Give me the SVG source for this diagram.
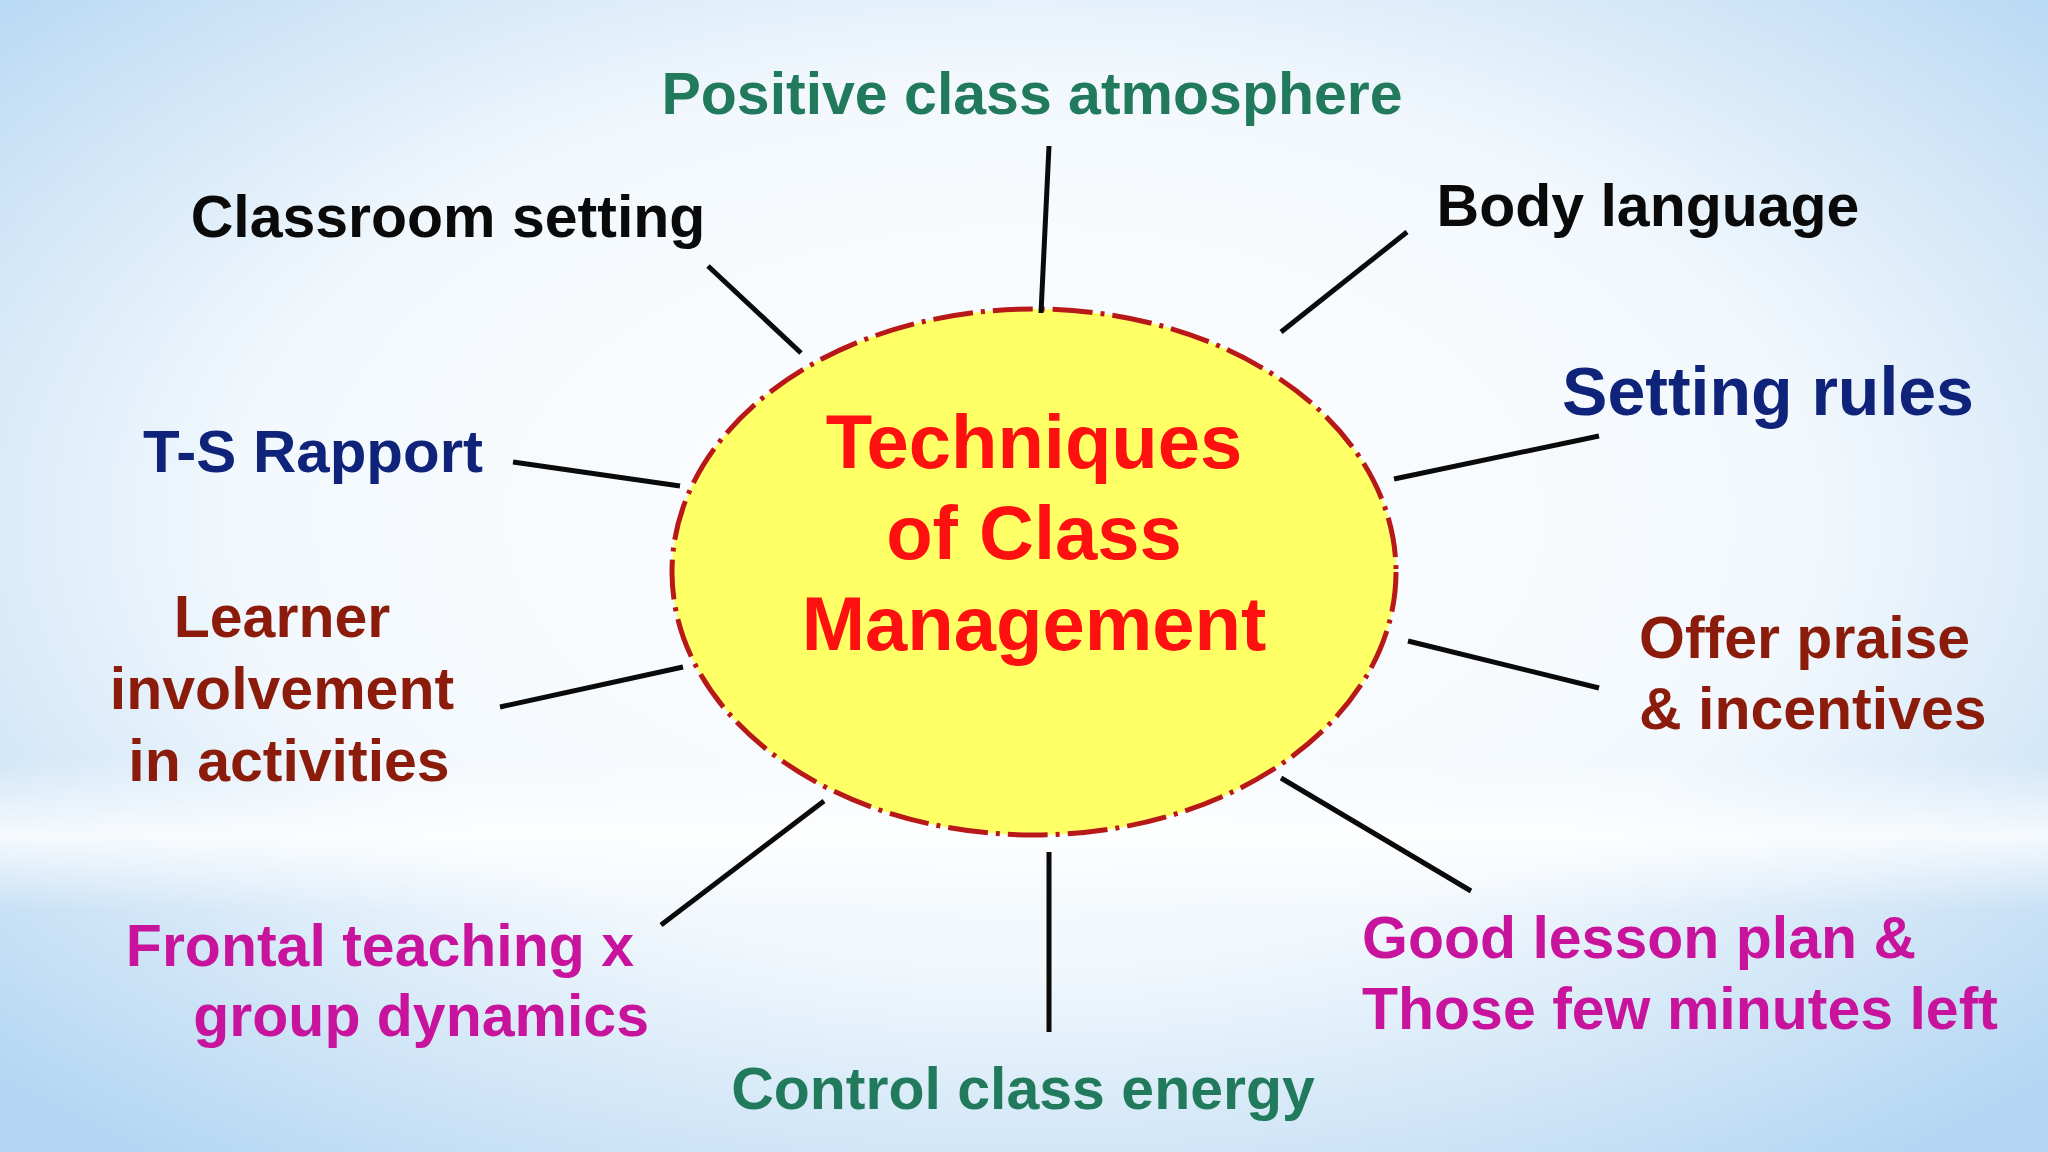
<svg xmlns="http://www.w3.org/2000/svg" width="2048" height="1152" viewBox="0 0 2048 1152">
<defs>
<radialGradient id="bg" cx="50%" cy="45%" r="70%">
<stop offset="0" stop-color="#ffffff"/><stop offset="0.55" stop-color="#f2f8fd"/><stop offset="1" stop-color="#b4d6f2"/>
</radialGradient>
<linearGradient id="band" x1="0" y1="0" x2="0" y2="1">
<stop offset="0" stop-color="#ffffff" stop-opacity="0"/><stop offset="0.5" stop-color="#ffffff" stop-opacity="0.8"/><stop offset="1" stop-color="#ffffff" stop-opacity="0"/>
</linearGradient>
</defs>
<style>
text{font-family:"Liberation Sans",Arial,sans-serif;font-weight:bold;font-size:59px}
.g{fill:#217a5c}.k{fill:#0a0a0a}.n{fill:#0f237a}.b{fill:#8b1c0c}.m{fill:#c8139c}
.t{fill:#ff1010;font-size:76px}
.c line{stroke:#0a0a0a;stroke-width:5}
</style>
<rect width="2048" height="1152" fill="url(#bg)"/>
<rect y="760" width="2048" height="150" fill="url(#band)"/>
<g id="center">
<ellipse cx="1034" cy="572" rx="362" ry="263" fill="#ffff66" stroke="#b81818" stroke-width="5" stroke-dasharray="40 8 4 8"/>
<text class="t" x="1034" y="468" text-anchor="middle">Techniques</text>
<text class="t" x="1034" y="559" text-anchor="middle">of Class</text>
<text class="t" x="1034" y="650" text-anchor="middle">Management</text>
</g>
<g class="c" id="connectors">
<line x1="1049" y1="146" x2="1041" y2="313"/>
<line x1="708" y1="266" x2="801" y2="353"/>
<line x1="1407" y1="232" x2="1281" y2="332"/>
<line x1="1599" y1="436" x2="1394" y2="479"/>
<line x1="513" y1="462" x2="680" y2="486"/>
<line x1="500" y1="707" x2="683" y2="667"/>
<line x1="1408" y1="641" x2="1599" y2="688"/>
<line x1="661" y1="925" x2="824" y2="801"/>
<line x1="1049" y1="852" x2="1049" y2="1032"/>
<line x1="1281" y1="778" x2="1471" y2="891"/>
</g>
<g id="n1"><text class="g" x="1032" y="114" text-anchor="middle">Positive class atmosphere</text></g>
<g id="n2"><text class="k" x="448" y="237" text-anchor="middle">Classroom setting</text></g>
<g id="n3"><text class="k" x="1648" y="226" text-anchor="middle">Body language</text></g>
<g id="n4"><text class="n" x="1768" y="415" text-anchor="middle" style="font-size:68px">Setting rules</text></g>
<g id="n5"><text class="n" x="313" y="472" text-anchor="middle" style="font-size:60px">T-S Rapport</text></g>
<g id="n6"><text class="b" x="282" y="637" text-anchor="middle">Learner</text><text class="b" x="282" y="709" text-anchor="middle">involvement</text><text class="b" x="289" y="781" text-anchor="middle">in activities</text></g>
<g id="n7"><text class="b" x="1639" y="658">Offer praise</text><text class="b" x="1639" y="729">&amp; incentives</text></g>
<g id="n8"><text class="m" x="634" y="966" text-anchor="end">Frontal teaching x</text><text class="m" x="649" y="1036" text-anchor="end">group dynamics</text></g>
<g id="n9"><text class="g" x="1023" y="1109" text-anchor="middle">Control class energy</text></g>
<g id="n10"><text class="m" x="1362" y="958">Good lesson plan &amp;</text><text class="m" x="1362" y="1029">Those few minutes left</text></g>
</svg>
